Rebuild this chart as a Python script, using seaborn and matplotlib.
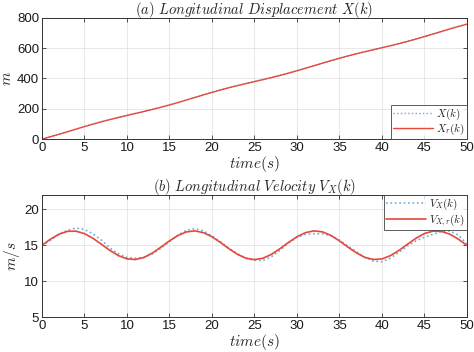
import numpy as np
import pandas as pd
import matplotlib
matplotlib.use("Agg")
import matplotlib.pyplot as plt
import seaborn as sns

t = list(range(0, 51))

x_meas = [0, 15.5, 31.8, 48.7, 65.8, 82.6, 98.9, 114.5, 129.3, 143.2, 156.5,
          169.6, 182.6, 196.0, 210.4, 225.6, 241.6, 258.3, 275.2, 292.1, 308.5,
          324.3, 339.3, 353.4, 366.8, 379.7, 392.7, 406.1, 420.2, 435.2, 450.9,
          467.3, 484.2, 501.0, 517.6, 533.6, 548.9, 563.3, 577.0, 590.0, 603.0,
          616.2, 630.2, 645.0, 660.6, 676.8, 693.5, 710.6, 727.3, 743.5, 758.8]
x_ref = [0, 15.4, 31.6, 48.4, 65.4, 82.2, 98.5, 114.1, 128.8, 142.7, 156.0,
         169.0, 182.1, 195.7, 210.0, 225.2, 241.2, 257.9, 274.8, 291.7, 308.2,
         324.0, 339.0, 353.1, 366.5, 379.5, 392.6, 406.0, 420.1, 435.1, 450.9,
         467.4, 484.4, 501.2, 517.9, 533.9, 549.1, 563.4, 577.0, 590.1, 603.2,
         616.4, 630.3, 645.0, 660.6, 676.9, 693.7, 710.8, 727.5, 743.7, 759.1]

v_meas = [15.0, 15.7, 16.5, 17.1, 17.4, 17.2, 16.6, 15.7, 14.6, 13.8, 13.3,
          13.2, 13.3, 13.8, 14.6, 15.5, 16.4, 17.1, 17.3, 17.0, 16.3,
          15.5, 14.6, 13.8, 13.2, 12.9, 12.9, 13.4, 14.3, 15.3, 16.1,
          16.5, 16.6, 16.6, 16.3, 15.7, 14.9, 14.1, 13.3, 12.8, 12.7,
          13.2, 14.0, 14.9, 15.6, 16.1, 16.5, 16.9, 17.0, 16.4, 15.2]
v_ref = [15.00, 15.85, 16.54, 16.94, 16.96, 16.62, 15.97, 15.13, 14.27, 13.55, 13.10,
         13.01, 13.30, 13.92, 14.74, 15.61, 16.36, 16.86, 17.00, 16.75, 16.18,
         15.39, 14.51, 13.74, 13.19, 13.00, 13.19, 13.73, 14.52, 15.39, 16.18,
         16.76, 17.00, 16.87, 16.37, 15.61, 14.74, 13.94, 13.30, 13.02, 13.09,
         13.55, 14.27, 15.13, 15.97, 16.63, 16.96, 16.93, 16.54, 15.84, 14.98]

xticks = [0, 5, 10, 15, 20, 25, 30, 35, 40, 45, 50]

sns.set_theme(style="whitegrid")
plt.rcParams["font.family"] = ["Liberation Sans", "DejaVu Sans"]
plt.rcParams["mathtext.fontset"] = "cm"

blue = "#6FA8DC"
red = "#E5483A"

fig = plt.figure(figsize=(4.74, 3.52), dpi=100)
ax1 = fig.add_axes([0.0886, 0.605, 0.8964, 0.344])
ax2 = fig.add_axes([0.0886, 0.0994, 0.8964, 0.3466])

df1 = pd.DataFrame({"t": t, "meas": x_meas, "ref": x_ref})
df2 = pd.DataFrame({"t": t, "meas": v_meas, "ref": v_ref})

sns.lineplot(data=df1, x="t", y="meas", ax=ax1, color=blue, linestyle=":", lw=1.0,
             label=r"$X(k)$")
sns.lineplot(data=df1, x="t", y="ref", ax=ax1, color=red, linestyle="-", lw=1.0,
             label=r"$X_r(k)$")
sns.lineplot(data=df2, x="t", y="meas", ax=ax2, color=blue, linestyle=":", lw=1.2,
             label=r"$V_X(k)$")
sns.lineplot(data=df2, x="t", y="ref", ax=ax2, color=red, linestyle="-", lw=1.2,
             label=r"$V_{X,r}(k)$")

for ax in (ax1, ax2):
    ax.set_xlim(0, 50)
    ax.set_xticks(xticks)
    ax.grid(True, color="#e4e4e4", lw=0.6)
    for s in ax.spines.values():
        s.set_color("#333333")
        s.set_linewidth(0.7)
    ax.tick_params(direction="in", length=3, width=0.6, colors="#333333",
                   labelsize=9.5, top=True, right=True, bottom=True, left=True,
                   pad=2)
    for lab in ax.get_xticklabels() + ax.get_yticklabels():
        lab.set_color("#1a1a1a")
    ax.set_xlabel(r"$time(s)$", fontsize=11, labelpad=0)

ax1.set_ylim(0, 800)
ax1.set_yticks([0, 200, 400, 600, 800])
ax1.set_ylabel(r"$m$", fontsize=11, labelpad=2)
ax1.set_title(r"$(a)\ Longitudinal\ Displacement\ X(k)$", fontsize=10.5, pad=3)

ax2.set_ylim(5, 22)
ax2.set_yticks([5, 10, 15, 20])
ax2.set_ylabel(r"$m/s$", fontsize=11, labelpad=2)
ax2.set_title(r"$(b)\ Longitudinal\ Velocity\ V_X(k)$", fontsize=10.5, pad=3)

for ax, loc in ((ax1, "lower right"), (ax2, "upper right")):
    leg = ax.legend(loc=loc, fontsize=8, frameon=True, fancybox=False,
                    borderaxespad=0, handlelength=3.6, borderpad=0.15,
                    labelspacing=0.05, handletextpad=0.3, markerfirst=True)
    leg.get_frame().set_edgecolor("#333333")
    leg.get_frame().set_linewidth(0.7)

fig.savefig("out.png", dpi=100)
